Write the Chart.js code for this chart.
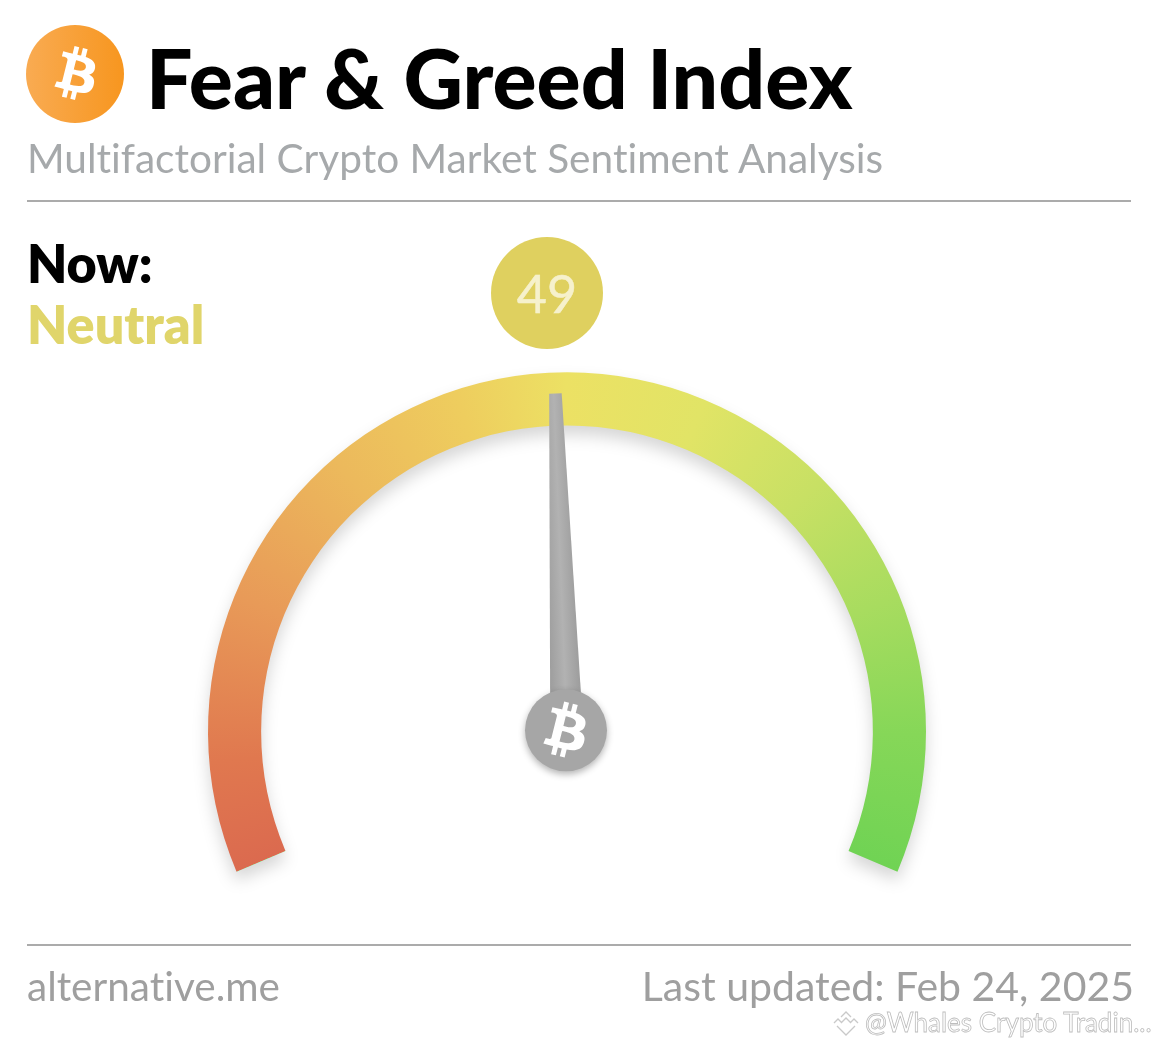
<!DOCTYPE html>
<html>
<head>
<meta charset="utf-8">
<title>Fear &amp; Greed Index</title>
<script src="https://cdn.jsdelivr.net/npm/chart.js@4"></script>
<style>
html,body{margin:0;padding:0;background:#fff;width:1162px;height:1045px;overflow:hidden}
#wrap{position:relative;width:1162px;height:1045px;font-family:Lato,sans-serif;font-variant-ligatures:none}
canvas{position:absolute;left:0;top:0}
.t{position:absolute;white-space:nowrap;line-height:1}
.rule{position:absolute;left:27px;width:1104px;height:2px;background:#ababab}
svg{position:absolute}
</style>
</head>
<body>
<div id="wrap">
<canvas id="c" width="1162" height="1045"></canvas>
<svg id="logo" style="left:26px;top:25px" width="98" height="98" viewBox="0 0 64 64">
<defs><linearGradient id="og" x1="0" y1="0" x2="1" y2="0"><stop offset="0" stop-color="#f9ab52"/><stop offset="1" stop-color="#f7961f"/></linearGradient></defs>
<circle cx="32" cy="32" r="32" fill="url(#og)"/>
<path id="btc" transform="translate(5 4) scale(.87)" fill="#fff" d="M46.11 27.441c.636-4.258-2.606-6.547-7.039-8.074l1.438-5.768-3.512-.875-1.4 5.616c-.922-.23-1.87-.447-2.812-.662l1.41-5.653-3.509-.875-1.439 5.766c-.764-.174-1.514-.346-2.242-.527l.004-.018-4.842-1.209-.934 3.75s2.605.597 2.55.634c1.422.355 1.68 1.296 1.636 2.042l-1.638 6.571c.098.025.225.061.365.117l-.37-.092-2.297 9.205c-.174.432-.615 1.08-1.609.834.035.051-2.552-.637-2.552-.637l-1.743 4.02 4.57 1.139c.85.213 1.683.436 2.502.646l-1.453 5.835 3.507.875 1.44-5.772c.957.26 1.887.5 2.797.726L27.504 50.8l3.511.875 1.453-5.823c5.987 1.133 10.49.676 12.383-4.738 1.527-4.36-.075-6.875-3.225-8.516 2.294-.531 4.022-2.04 4.483-5.157zM38.087 38.69c-1.086 4.36-8.426 2.004-10.807 1.412l1.928-7.729c2.38.594 10.011 1.77 8.88 6.317zm1.085-11.312c-.99 3.966-7.1 1.951-9.083 1.457l1.748-7.01c1.983.494 8.367 1.416 7.335 5.553z"/>
</svg>
<div class="t" id="title" style="left:146px;top:37px;font-size:82.3px;font-weight:900;color:#000">Fear &amp; Greed Index</div>
<div class="t" id="sub" style="left:27px;top:138px;font-size:40.6px;color:#a6a9ab">Multifactorial Crypto Market Sentiment Analysis</div>
<div class="rule" style="top:200px"></div>
<div class="t" id="now" style="left:27px;top:237px;font-size:52px;font-weight:800;color:#000">Now:</div>
<div class="t" id="state" style="left:27px;top:298px;font-size:52px;font-weight:800;color:#e0d56b">Neutral</div>
<div id="bubble" style="position:absolute;left:491px;top:237px;width:112px;height:112px;border-radius:50%;background:#dfd05f"></div>
<div class="t" id="val" style="left:491px;width:112px;text-align:center;top:267px;font-size:52px;color:#f6f1cc;-webkit-text-stroke:.5px #f6f1cc"></div>
<div class="rule" style="top:944px"></div>
<div class="t" id="site" style="left:27px;top:966px;font-size:40.5px;color:#9f9f9f">alternative.me</div>
<div class="t" id="upd" style="right:28px;top:965px;font-size:41px;color:#9f9f9f">Last updated: Feb 24, 2025</div>
<svg style="left:832px;top:1009px" width="30" height="28" viewBox="0 0 30 28" fill="none" stroke="#c9c9c9" stroke-width="1.3">
<path d="M9 8l5-5 5 5M2 14l4-4 4 4M18 14l4-4 4 4M9 14l5-5 5 5M5 17l9 9 9-9"/>
</svg>
<div class="t" id="wm" style="left:865px;top:1009px;font-size:26px;color:#fff;-webkit-text-stroke:.8px #bdbdbd">@Whales Crypto Tradin...</div>
</div>
<script>
// Data
const categories = ['Fear & Greed'];
const scaleSpan = [100];
const currentValue = [49];
const currentLabel = ['Neutral'];

const START_DEG = 157, SWEEP_DEG = 226;
const colorStops = [
  [0,'#db6a4f'],[.08,'#e0784f'],[.2,'#e89a58'],[.32,'#ecb95c'],[.42,'#eecd5e'],
  [.5,'#ece164'],[.6,'#e1e466'],[.7,'#c8e064'],[.8,'#a8dc5f'],[.9,'#86d758'],[1,'#70d354']
];
document.getElementById('val').textContent = currentValue[0];
const btcPath = new Path2D(document.getElementById('btc').getAttribute('d'));

const gaugePlugin = {
  id:'gaugeParts',
  beforeDatasetsDraw(chart){
    const c = chart.ctx;
    const a = chart.getDatasetMeta(0).data[0];
    const g = c.createConicGradient(START_DEG*Math.PI/180,a.x,a.y);
    colorStops.forEach(s=>g.addColorStop(s[0]*SWEEP_DEG/360,s[1]));
    g.addColorStop(1,colorStops[colorStops.length-1][1]);
    a.options = Object.assign({},a.options,{backgroundColor:g});
    c.save();
    c.shadowColor='rgba(0,0,0,.16)';
    c.shadowBlur=16;
    c.shadowOffsetY=9;
  },
  afterDatasetsDraw(chart){
    const c = chart.ctx;
    c.restore();
    const a = chart.getDatasetMeta(0).data[0];
    const ang = a.startAngle + (a.endAngle-a.startAngle)*currentValue[0]/scaleSpan[0];
    c.save();
    c.translate(a.x,a.y);
    c.save();
    c.rotate(ang);
    const g = c.createLinearGradient(0,-16,0,16);
    g.addColorStop(0,'#9c9c9c');g.addColorStop(.5,'#b2b2b2');g.addColorStop(1,'#9c9c9c');
    c.fillStyle=g;
    c.beginPath();
    c.moveTo(a.outerRadius-21,-4.5);
    c.lineTo(a.outerRadius-21,8);
    c.lineTo(35,15.5);
    c.lineTo(35,-15.5);
    c.closePath();
    c.fill();
    c.restore();
    c.shadowColor='rgba(0,0,0,.3)';c.shadowBlur=7;c.shadowOffsetY=3;
    c.fillStyle='#a6a6a6';
    c.beginPath();c.arc(-1,-1,41,0,Math.PI*2);c.fill();
    c.shadowColor='transparent';
    c.translate(-1-32*1.38,-1-32*1.38);
    c.scale(1.38,1.38);
    c.fillStyle='#fff';
    c.fill(btcPath);
    c.restore();
  }
};

new Chart(document.getElementById('c'),{
  type:'doughnut',
  data:{labels:categories,datasets:[{
    data:scaleSpan,
    borderWidth:0,
    backgroundColor:colorStops[0][1]
  }]},
  options:{
    responsive:false,animation:false,devicePixelRatio:1,
    rotation:START_DEG+90-360,circumference:SWEEP_DEG,
    radius:359,cutout:'85.2%',
    layout:{padding:{top:199,left:0,right:28,bottom:0}},
    plugins:{legend:{display:false},tooltip:{enabled:false},title:{display:false}}
  },
  plugins:[gaugePlugin]
});
</script>
</body>
</html>
